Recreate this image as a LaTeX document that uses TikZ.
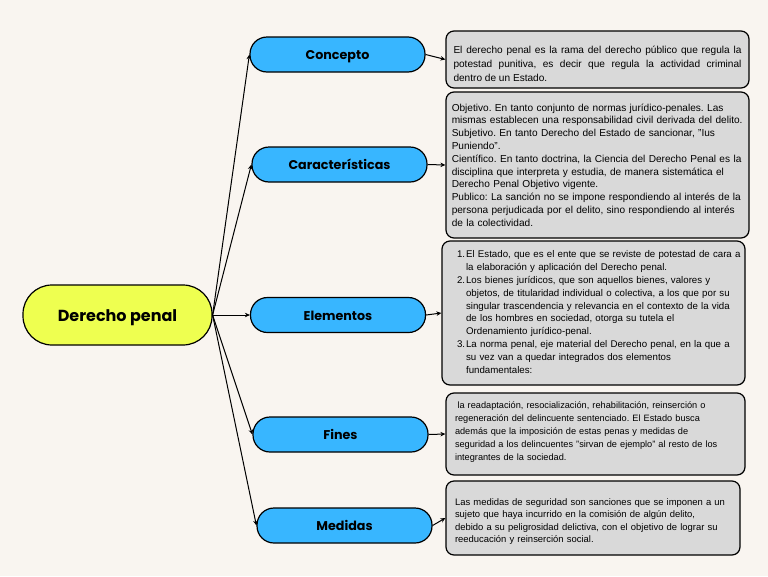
\documentclass[tikz,border=0pt]{standalone}
\usepackage{fontspec}
\setmainfont{Liberation Sans}
\newfontfamily\headfont{Poppins}
\usetikzlibrary{arrows.meta}
\frenchspacing

\definecolor{paper}{RGB}{249,245,240}
\definecolor{skyblue}{RGB}{56,182,255}
\definecolor{lemon}{RGB}{238,255,80}
\definecolor{boxgray}{RGB}{217,217,217}

\begin{document}
\begin{tikzpicture}[x=1pt, y=-1pt,
    every node/.style={font=\fontsize{10.1}{12.8}\selectfont},
    rootnode/.style={draw=black, line width=1.2pt, fill=lemon, rounded corners=29pt,
        minimum width=189pt, minimum height=60pt, text height=13pt, text depth=0pt,
        font=\headfont\bfseries\fontsize{16}{18}\selectfont},
    topic/.style={draw=black, line width=1.2pt, fill=skyblue, rounded corners=17pt,
        minimum width=175pt, minimum height=35pt, text height=10pt, text depth=0pt,
        font=\headfont\bfseries\fontsize{12.7}{15}\selectfont},
    infobox/.style={draw=black, line width=1.2pt, fill=boxgray, rounded corners=8pt,
        inner sep=0pt, align=left},
    link/.style={-{Stealth[length=5pt,width=4.5pt]}, line width=1pt}]

    \useasboundingbox (0,0) rectangle (768,576);
    \fill[paper] (0,0) rectangle (768,576);

    % main topic and branches
    \node[rootnode] (root) at (117.5,315) {Derecho penal};

    \node[topic] (concepto) at (337.5,54.5) {Concepto};
    \node[topic] (caract) at (339.5,164.5) {Características};
    \node[topic] (elementos) at (338,315) {Elementos};
    \node[topic] (fines) at (340.5,434.5) {Fines};
    \node[topic] (medidas) at (344.5,525.5) {Medidas};

    % text boxes
    \node[infobox, align=justify, minimum width=303pt, minimum height=57pt, text width=288pt,
        font=\fontsize{10.1}{14}\selectfont] (defbox) at (597.5,59.5)
        {\rule{0pt}{16pt}El derecho penal es la rama del derecho público que regula la\linebreak
         potestad punitiva, es decir que regula la actividad criminal\linebreak
         dentro de un Estado.};

    \node[infobox, minimum width=303pt, minimum height=146pt, text width=291.5pt] (charbox) at (597.5,165)
        {Objetivo. En tanto conjunto de normas jurídico-penales. Las\\
         mismas establecen una responsabilidad civil derivada del delito.\\
         Subjetivo. En tanto Derecho del Estado de sancionar, "Ius\\
         Puniendo".\\
         Científico. En tanto doctrina, la Ciencia del Derecho Penal es la\\
         disciplina que interpreta y estudia, de manera sistemática el\\
         Derecho Penal Objetivo vigente.\\
         Publico: La sanción no se impone respondiendo al interés de la\\
         persona perjudicada por el delito, sino respondiendo al interés\\
         de la colectividad.};

    \node[infobox, minimum width=303pt, minimum height=144pt, text width=300pt,
        font=\fontsize{9.7}{12.8}\selectfont] (elembox) at (593.5,313)
        {\hspace*{13.5pt}\begin{tabular}{@{}r@{\hspace{1pt}}l@{}}
         1.&El Estado, que es el ente que se reviste de potestad de cara a\\
           &la elaboración y aplicación del Derecho penal.\\
         2.&Los bienes jurídicos, que son aquellos bienes, valores y\\
           &objetos, de titularidad individual o colectiva, a los que por su\\
           &singular trascendencia y relevancia en el contexto de la vida\\
           &de los hombres en sociedad, otorga su tutela el\\
           &Ordenamiento jurídico-penal.\\
         3.&La norma penal, eje material del Derecho penal, en la que a\\
           &su vez van a quedar integrados dos elementos\\
           &fundamentales:
         \end{tabular}};

    \node[infobox, minimum width=299pt, minimum height=82pt, text width=281pt,
        font=\fontsize{9.2}{13}\selectfont] (finbox) at (595.5,434)
        {\hspace*{2.5pt}la readaptación, resocialización, rehabilitación, reinserción o\\
         regeneración del delincuente sentenciado. El Estado busca\\
         además que la imposición de estas penas y medidas de\\
         seguridad a los delincuentes "sirvan de ejemplo" al resto de los\\
         integrantes de la sociedad.\rule[-6pt]{0pt}{6pt}};

    \node[infobox, minimum width=294pt, minimum height=74pt, text width=276pt,
        font=\fontsize{9.45}{12.5}\selectfont] (medbox) at (593,518)
        {\rule{0pt}{14pt}Las medidas de seguridad son sanciones que se imponen a un\\
         sujeto que haya incurrido en la comisión de algún delito,\\
         debido a su peligrosidad delictiva, con el objetivo de lograr su\\
         reeducación y reinserción social.};

    % connectors
    \foreach \src/\dst in {concepto/defbox, caract/charbox, elementos/elembox, fines/finbox, medidas/medbox} {
        \draw[link] (root.east) -- (\src.west);
        \draw[link] (\src.east) -- (\dst.west);
    }
\end{tikzpicture}
\end{document}
